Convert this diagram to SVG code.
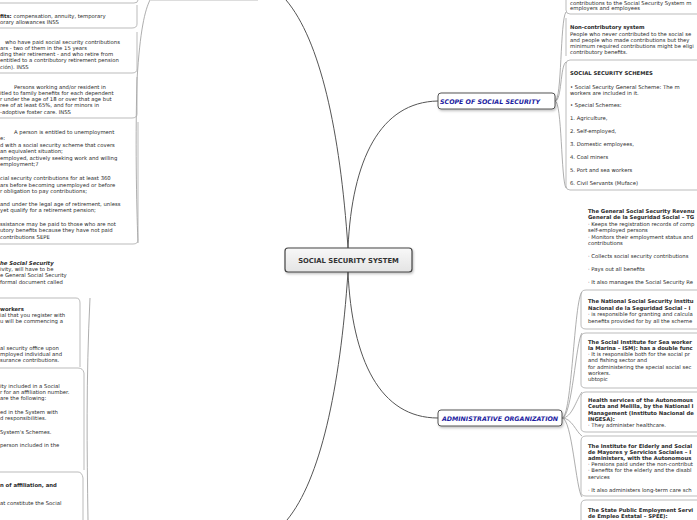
<svg xmlns="http://www.w3.org/2000/svg" width="697" height="520" viewBox="0 0 697 520">
<style>
text{font-family:"DejaVu Sans",Verdana,sans-serif;font-size:5.3px;fill:#2a2a2a}
.b{font-weight:bold}
.bi{font-weight:bold;font-style:italic}
.main{stroke:#555;stroke-width:1;fill:none}
.sub{stroke:#999;stroke-width:0.8;fill:none}
.box{stroke:#aaa;stroke-width:0.8;fill:none}
.t1{font-size:6.3px;font-weight:bold;font-style:italic;fill:#1a1aa0}
</style>
<defs>
<linearGradient id="g" x1="0" y1="0" x2="0" y2="1"><stop offset="0" stop-color="#f8f8f8"/><stop offset="1" stop-color="#e4e4e4"/></linearGradient>
<filter id="sh" x="-10%" y="-30%" width="130%" height="170%"><feDropShadow dx="1" dy="1.5" stdDeviation="1" flood-opacity="0.25"/></filter>
</defs>
<g id="connectors">
<path class="main" d="M348,248 C340,130 320,40 286,0"/>
<path class="main" d="M348,248 C352,160 380,102 438,101"/>
<path class="main" d="M348,272 C340,390 320,480 287,520"/>
<path class="main" d="M348,272 C352,360 380,418 438,418"/>
<path class="sub" d="M555,101 C562,101 560,20 566,12"/>
<path class="sub" d="M555,101 C562,101 560,66 566,62"/>
<path class="sub" d="M555,101 C562,101 561,180 566,188"/>
<path class="sub" d="M562,418 C572,418 574,300 582,292"/>
<path class="sub" d="M562,418 C572,418 576,340 582,333"/>
<path class="sub" d="M562,418 C572,418 576,400 582,392"/>
<path class="sub" d="M562,418 C572,418 576,432 582,436"/>
<path class="sub" d="M562,418 C572,418 576,490 582,497"/>
<path class="sub" d="M150,0 C145,10 140,30 137,80 C135,150 137,220 138,243"/>
<path class="sub" d="M90,298 C86,380 87,450 88,520"/>
</g>
<g id="left-top-boxes">
<path class="box" d="M0,3 H134 Q138,3 138,0"/>
<path class="box" d="M0,28 H132 Q137,28 137,24 V5"/>
<path class="box" d="M0,73 H132 Q137,73 137,69 V32"/>
<path class="box" d="M0,118 H132 Q137,118 137,114 V77"/>
<path class="box" d="M0,244 H133 Q138,244 138,240 V122"/>
<text class="b" x="0" y="18">fits: <tspan font-weight="normal">compensation, annuity, temporary</tspan></text>
<text x="0" y="24">orary allowances       INSS</text>
<text x="5" y="44">who have paid social security contributions</text>
<text x="0" y="50">ars - two of them in the 15 years</text>
<text x="0" y="56">ding their retirement - and who retire from</text>
<text x="0" y="62">entitled to a contributory retirement pension</text>
<text x="0" y="69">ción).      INSS</text>
<text x="14" y="89">Persons working and/or resident in</text>
<text x="0" y="95">itled to family benefits for each dependent</text>
<text x="0" y="101">r under the age of 18 or over that age but</text>
<text x="0" y="107">ree of at least 65%, and for minors in</text>
<text x="0" y="114">-adoptive foster care.         INSS</text>
<text x="14" y="134">A person is entitled to unemployment</text>
<text x="0" y="140">e:</text>
<text x="0" y="147">d with a social security scheme that covers</text>
<text x="0" y="153">an equivalent situation;</text>
<text x="0" y="160">employed, actively seeking work and willing</text>
<text x="0" y="166">employment;7</text>
<text x="0" y="180">cial security contributions for at least 360</text>
<text x="0" y="187">ars before becoming unemployed or before</text>
<text x="0" y="193">r obligation to pay contributions;</text>
<text x="0" y="206">and under the legal age of retirement, unless</text>
<text x="0" y="212">yet qualify for a retirement pension;</text>
<text x="0" y="226">ssistance may be paid to those who are not</text>
<text x="0" y="232">utory benefits because they have not paid</text>
<text x="0" y="239">contributions   SEPE</text>
</g>
<g id="left-top-node"><path d="M150,0 H258" stroke="#ddd" stroke-width="2"/></g>
<g id="left-bottom-boxes">
<path class="box" d="M0,298 H76 Q80,298 80,303 V367"/>
<path class="box" d="M0,368 H78 Q83,368 84,373 V470"/>
<path class="box" d="M0,472 H78 Q82,472 83,478 V520"/>
<text class="bi" x="0" y="265">he Social Security</text>
<text x="0" y="271">ivity, will have to be</text>
<text x="0" y="277">e General Social Security</text>
<text x="0" y="284">formal document called</text>
<text class="b" x="0" y="311">workers</text>
<text x="0" y="317">ial that you register with</text>
<text x="0" y="323">u will be commencing a</text>
<text x="0" y="350">al security office upon</text>
<text x="0" y="356">mployed individual and</text>
<text x="0" y="362">surance contributions.</text>
<text x="0" y="388">ity included in a Social</text>
<text x="0" y="394">r for an affiliation number.</text>
<text x="0" y="400">are the following:</text>
<text x="0" y="414">ed in the System with</text>
<text x="0" y="420">d responsibilities.</text>
<text x="0" y="434">System's Schemes.</text>
<text x="0" y="447">person included in the</text>
<text class="b" x="0" y="487">n of affiliation, and</text>
<text x="0" y="505">at constitute the Social</text>
</g>
<g id="center">
<rect x="285" y="248" width="127" height="24" rx="3" fill="url(#g)" stroke="#444" stroke-width="1.2" filter="url(#sh)"/>
<text x="348.5" y="263" text-anchor="middle" style="font-size:6.8px;font-weight:bold;fill:#333">SOCIAL SECURITY SYSTEM</text>
</g>
<g id="scope">
<rect x="438" y="93" width="117" height="16" rx="3" fill="#fff" stroke="#555" stroke-width="1" filter="url(#sh)"/>
<text class="t1" x="490" y="103.5" text-anchor="middle">SCOPE OF SOCIAL SECURITY</text>
</g>
<g id="admin">
<rect x="438" y="410" width="124" height="16" rx="3" fill="#fff" stroke="#555" stroke-width="1" filter="url(#sh)"/>
<text class="t1" x="500" y="420.5" text-anchor="middle">ADMINISTRATIVE ORGANIZATION</text>
</g>
<g id="scope-children">
<path class="box" d="M566,0 V10 Q566,14 570,14 H697"/>
<path class="box" d="M697,60 H570 Q566,60 566,64 V186 Q566,190 570,190 H697"/>
<path class="box" d="M566,18 V56"/>
<text x="570" y="4.5">contributions to the Social Security System m</text>
<text x="570" y="10">employers and employees</text>
<text class="b" x="570" y="29">Non-contributory system</text>
<text x="570" y="36">People who never contributed to the social se</text>
<text x="570" y="42">and people who made contributions but they </text>
<text x="570" y="48">minimum required contributions might be eligi</text>
<text x="570" y="54">contributory benefits.</text>
<text class="b" x="570" y="75">SOCIAL SECURITY SCHEMES</text>
<text x="570" y="89">•      Social Security General Scheme:  The m</text>
<text x="570" y="95">workers are included in it.</text>
<text x="570" y="107">•      Special Schemes:</text>
<text x="570" y="120">1. Agriculture,</text>
<text x="570" y="133">2. Self-employed,</text>
<text x="570" y="146">3. Domestic employees,</text>
<text x="570" y="159">4. Coal miners</text>
<text x="570" y="172">5. Port and sea workers</text>
<text x="570" y="185">6. Civil Servants (Muface)</text>
</g>
<g id="admin-children">
<path class="box" d="M697,290 H586 Q581,290 581,295 V325 Q581,329 586,329 H697"/>
<path class="box" d="M697,333 H586 Q581,333 581,338 V384 Q581,388 586,388 H697"/>
<path class="box" d="M697,392 H586 Q581,392 581,397 V428 Q581,432 586,432 H697"/>
<path class="box" d="M697,436 H586 Q581,436 581,441 V492 Q581,496 586,496 H697"/>
<path class="box" d="M697,500 H586 Q581,500 581,505 V520"/>
<text class="b" x="588" y="213">The General Social Security Revenu</text>
<text class="b" x="588" y="219">General de la Seguridad Social – TG</text>
<text x="588" y="226">· Keeps the registration records of comp</text>
<text x="588" y="232">self-employed persons</text>
<text x="588" y="239">· Monitors their employment status and</text>
<text x="588" y="245">contributions</text>
<text x="588" y="258">· Collects social security contributions</text>
<text x="588" y="271">· Pays out all benefits</text>
<text x="588" y="284">· It also manages the Social Security Re</text>
<text class="b" x="588" y="303">The National Social Security Institu</text>
<text class="b" x="588" y="310">Nacional de la Seguridad Social – I</text>
<text x="588" y="316">· is responsible for granting and calcula</text>
<text x="588" y="323">benefits provided for by all the scheme</text>
<text class="b" x="588" y="344">The Social Institute for Sea worker</text>
<text class="b" x="588" y="350">la Marina – ISM): has a double func</text>
<text x="588" y="356">· It is responsible both for the social pr</text>
<text x="588" y="362">and fishing sector and</text>
<text x="588" y="369"> for administering the special social sec</text>
<text x="588" y="375">workers.</text>
<text x="588" y="381">ubtopic</text>
<text class="b" x="588" y="402">Health services of the Autonomous</text>
<text class="b" x="588" y="408">Ceuta and Melilla, by the National I</text>
<text class="b" x="588" y="415">Management (Instituto Nacional de</text>
<text class="b" x="588" y="421">INGESA):</text>
<text x="588" y="427">· They administer healthcare.</text>
<text class="b" x="588" y="448">The Institute for Elderly and Social</text>
<text class="b" x="588" y="454">de Mayores y Servicios Sociales – I</text>
<text class="b" x="588" y="460">administers, with the Autonomous </text>
<text x="588" y="466">· Pensions paid under the non-contribut</text>
<text x="588" y="472">· Benefits for the elderly and the disabl</text>
<text x="588" y="479">services</text>
<text x="588" y="492">· It also administers long-term care sch</text>
<text class="b" x="588" y="512">The State Public Employment Servi</text>
<text class="b" x="588" y="518">de Empleo Estatal – SPEE):</text>
</g>
</svg>
